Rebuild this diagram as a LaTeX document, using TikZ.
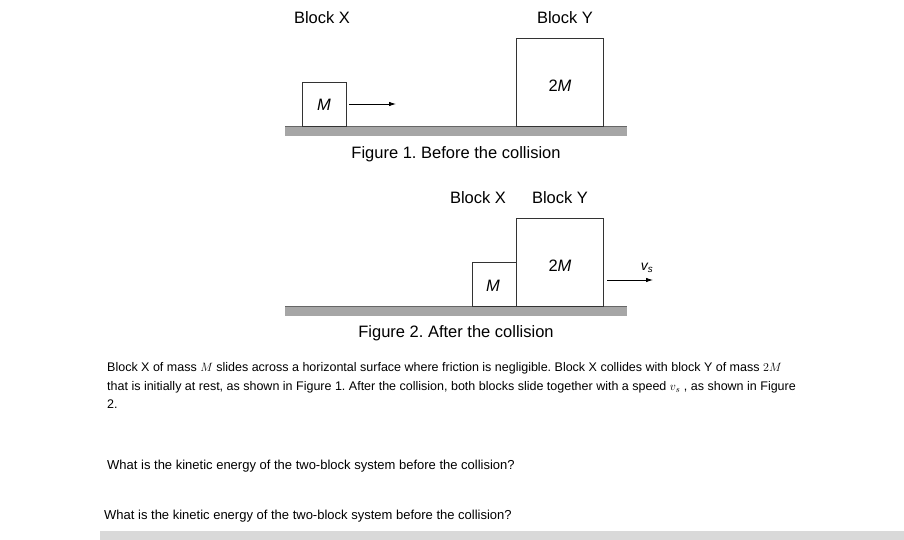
\documentclass[tikz,border=0pt]{standalone}
\usepackage{fontspec}
\usetikzlibrary{arrows.meta}
\setmainfont{Liberation Sans}
\frenchspacing
\begin{document}
\begin{tikzpicture}[x=1pt,y=-1pt,
  blk/.style={draw=black!80,line width=0.8pt},
  gnd/.style={fill=black!35,draw=none},
  lbl/.style={font=\fontsize{16.5}{18}\selectfont,inner sep=0pt},
  par/.style={font=\fontsize{12.5}{14}\selectfont,inner sep=0pt,anchor=west},
  qst/.style={font=\fontsize{13}{15}\selectfont,inner sep=0pt,anchor=west},
  arr/.style={-{Latex[length=7pt,width=4.5pt]},line width=0.8pt}]
\useasboundingbox (0,0) rectangle (904,540);
% Figure 1
\fill[gnd] (285,126) rectangle (627,136);
\draw[black!60,line width=0.6pt] (285,126) -- (627,126);
\draw[blk] (302,82) rectangle (346,126);
\node[lbl] (m1) at (324,105) {\itshape M};
\draw[blk] (516,38) rectangle (603,126);
\node[lbl] (y1) at (560,86) {2\itshape M};
\coordinate (a1s) at (349,104); \coordinate (a1e) at (396,104);
\draw[arr] (a1s) -- (a1e);
\node[lbl] (bx1) at (322,18) {Block X};
\node[lbl] (by1) at (565,18) {Block Y};
\node[lbl] (f1) at (456,154) {Figure 1. Before the collision};
% Figure 2
\fill[gnd] (285,306) rectangle (627,316);
\draw[black!60,line width=0.6pt] (285,306) -- (627,306);
\draw[blk] (472,262) rectangle (516,306);
\node[lbl] (m2) at (493,286) {\itshape M};
\draw[blk] (516,218) rectangle (603,306);
\node[lbl] (y2) at (560,266) {2\itshape M};
\coordinate (a2s) at (607,280); \coordinate (a2e) at (653,280);
\draw[arr] (a2s) -- (a2e);
\node[inner sep=0pt,font=\fontsize{14}{15}\selectfont] (vs) at (647,268) {\itshape v\textsubscript{s}};
\node[lbl] (bx2) at (478,198) {Block X};
\node[lbl] (by2) at (560,198) {Block Y};
\node[lbl] (f2) at (456,333) {Figure 2. After the collision};
% Text
\node[par] (p1) at (107,368) {Block $\mathrm{X}$ of mass $M$ slides across a horizontal surface where friction is negligible. Block $\mathrm{X}$ collides with block $\mathrm{Y}$ of mass $2M$};
\node[par] (p2) at (107,387) {that is initially at rest, as shown in Figure 1. After the collision, both blocks slide together with a speed $v_s$ , as shown in Figure};
\node[par] (p3) at (107,404) {2.};
\node[qst] (q1) at (107,466) {What is the kinetic energy of the two-block system before the collision?};
\node[qst] (q2) at (104,516) {What is the kinetic energy of the two-block system before the collision?};
\fill[black!15] (100,531) rectangle (904,540);
\end{tikzpicture}
\end{document}
